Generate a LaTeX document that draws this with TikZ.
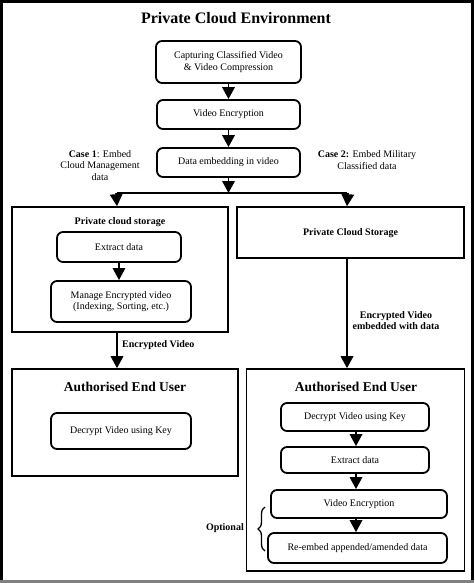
\documentclass[tikz,border=0pt]{standalone}
\usepackage{fontspec}
\setmainfont{Liberation Serif}
\usetikzlibrary{arrows.meta,decorations.pathreplacing}
\begin{document}
\begin{tikzpicture}[x=1pt,y=-1pt,
  rbox/.style={draw,rounded corners=6pt,line width=1.8pt,align=center,inner sep=0pt,
    font=\fontsize{10}{11.5}\selectfont},
  frame/.style={draw,line width=1.6pt,inner sep=0pt},
  txt/.style={align=center,inner sep=0pt,font=\fontsize{10}{11.5}\selectfont},
  btxt/.style={align=center,inner sep=0pt,font=\fontsize{10}{11.5}\selectfont\bfseries},
  bigtitle/.style={inner sep=0pt,font=\fontsize{13.5}{15}\selectfont\bfseries},
  arr/.style={line width=1.8pt,-{Triangle[length=12pt,width=12.5pt]}},
  ln/.style={line width=1.8pt}]
\useasboundingbox (0,0) rectangle (474,583);
\fill[white] (0,0) rectangle (474,583);
% outer frame
\draw[line width=2.6pt] (1.3,583) -- (1.3,1.3) -- (472.7,1.3) -- (472.7,583);
\draw[line width=3pt,gray] (0,581.5) -- (474,581.5);

\node[inner sep=0pt,font=\fontsize{16}{18}\selectfont\bfseries] (title) at (236,18) {Private Cloud Environment};

\node[rbox,minimum width=145pt,minimum height=42pt] (cap) at (228.5,62) {Capturing Classified Video\\ \& Video Compression};
\node[rbox,minimum width=143pt,minimum height=29pt] (enc) at (228.5,114.5) {Video Encryption};
\node[rbox,minimum width=143pt,minimum height=29pt] (emb) at (228.5,162.5) {Data embedding in video};

\node[txt] (case1) at (100,165.5) {\textbf{Case 1}: Embed\\ Cloud Management\\ data};
\node[txt] (case2) at (367,160) {\textbf{Case 2:} Embed Military\\ Classified data};

\draw[arr] (cap) -- (enc);
\draw[arr] (enc) -- (emb);
\coordinate (split) at (228.5,193);
\coordinate (L) at (117,193);
\coordinate (R) at (347,193);
\draw[arr] (emb) -- (split);
\draw[ln] (L) -- (R);

% left storage
\node[frame,minimum width=216pt,minimum height=125pt] (pcsL) at (120,269.5) {};
\node[btxt] (pcsLt) at (120,222) {Private cloud storage};
\node[rbox,minimum width=124pt,minimum height=30pt] (extL) at (119,247) {Extract data};
\node[rbox,minimum width=140pt,minimum height=41pt] (manL) at (121,301.5) {Manage Encrypted video\\ (Indexing, Sorting, etc.)};
\draw[arr] (extL.south) -- (extL.south |- manL.north);

% right storage
\node[frame,minimum width=227pt,minimum height=51pt] (pcsR) at (350.5,232.5) {};
\node[btxt] (pcsRt) at (350.5,233) {Private Cloud Storage};

\draw[arr] ([xshift=-0.9pt]L) -- (L |- pcsL.north);
\draw[arr] ([xshift=0.9pt]R) -- (R |- pcsR.north);

% bottom left
\node[frame,minimum width=226pt,minimum height=107pt] (aeuL) at (125,422.5) {};
\node[bigtitle] (aeuLt) at (125,387) {Authorised End User};
\node[rbox,minimum width=140pt,minimum height=36pt] (decL) at (121,431) {Decrypt Video using Key};

% bottom right
\node[frame,minimum width=218pt,minimum height=202pt] (aeuR) at (355.5,470) {};
\node[bigtitle] (aeuRt) at (356,387) {Authorised End User};
\node[rbox,minimum width=148pt,minimum height=28pt] (decR) at (355,417) {Decrypt Video using Key};
\node[rbox,minimum width=148pt,minimum height=26pt] (extR) at (355,460) {Extract data};
\node[rbox,minimum width=176pt,minimum height=28pt] (vencR) at (359,504) {Video Encryption};
\node[rbox,minimum width=179pt,minimum height=30pt] (reR) at (357.5,548) {Re-embed appended/amended data};

\coordinate (cx) at (356,0);
\draw[arr] (cx |- decR.south) -- (cx |- extR.north);
\draw[arr] (cx |- extR.south) -- (cx |- vencR.north);
\draw[arr] (cx |- vencR.south) -- (cx |- reR.north);

% storage to users
\draw[arr] (L |- pcsL.south) -- (L |- aeuL.north);
\node[btxt,anchor=west] (ev) at (122,345) {Encrypted Video};
\draw[arr] (R |- pcsR.south) -- (R |- aeuR.north);
\node[btxt] (evd) at (396,320.5) {Encrypted Video\\ embedded with data};

% optional brace
\coordinate (bb) at (265,551);
\coordinate (bt) at (265,507);
\draw[line width=1.3pt,decorate,decoration={brace,amplitude=7pt}] (bb) -- (bt);
\node[btxt,anchor=east] (opt) at (244,528.5) {Optional};
\end{tikzpicture}
\end{document}
